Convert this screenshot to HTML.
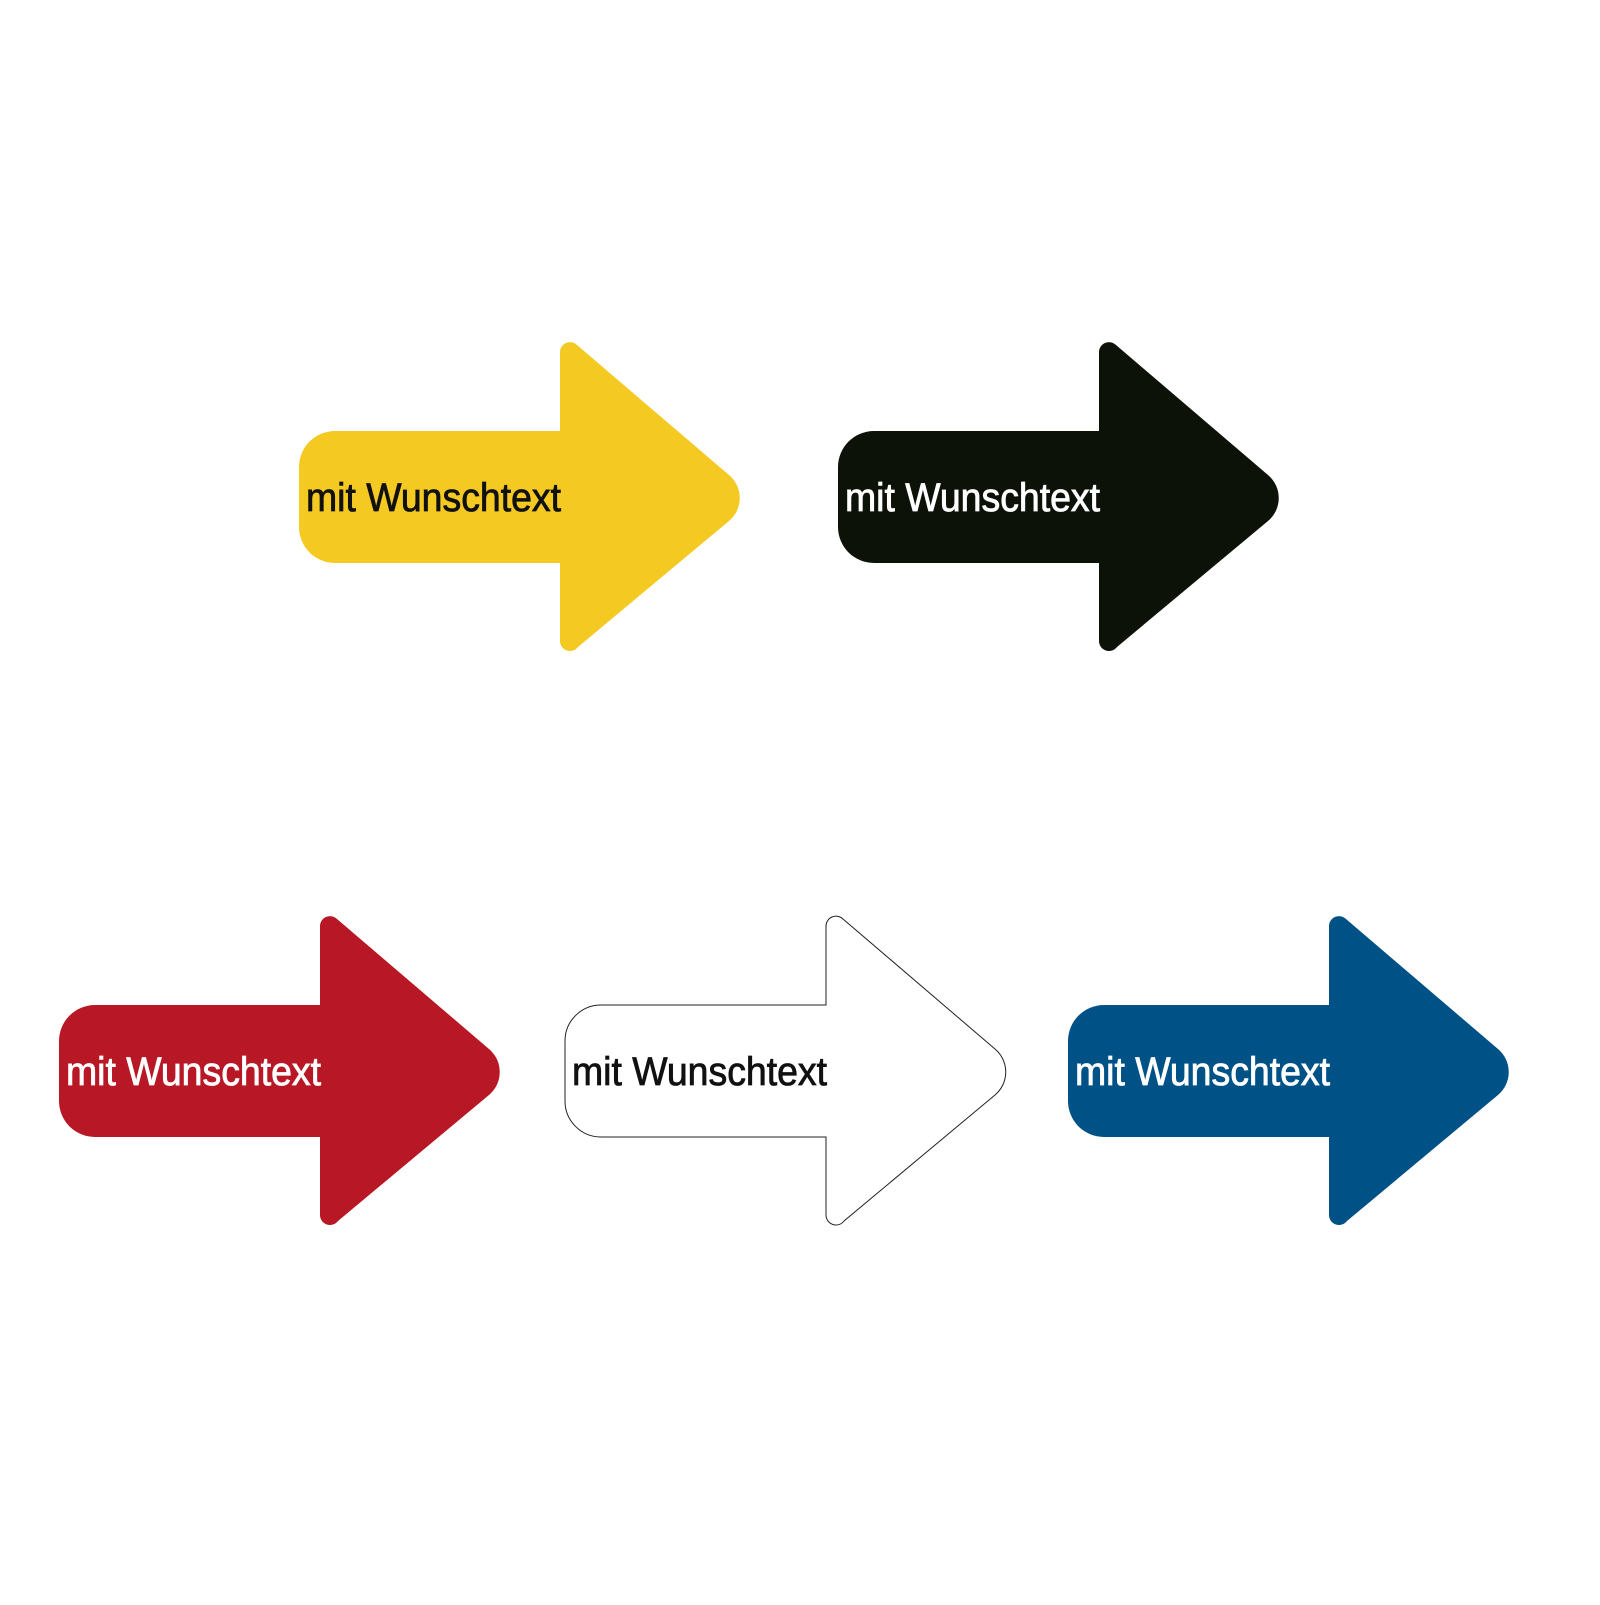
<!DOCTYPE html>
<html><head><meta charset="utf-8"><style>html,body{margin:0;padding:0;background:#fff}</style></head>
<body>
<svg width="1600" height="1600" viewBox="0 0 1600 1600" xmlns="http://www.w3.org/2000/svg">
<defs>
<path id="a" d="M335,431 H560 V352 A10,10 0 0 1 577,345 L729,475 A30,30 0 0 1 729,521 L578,647 A10,10 0 0 1 560,641 V563 H335 A36,36 0 0 1 299,527 V467 A36,36 0 0 1 335,431 Z"/>
</defs>
<g font-family="Liberation Sans, sans-serif" font-size="40" stroke-width="0.8">
<use href="#a" fill="#f4c922"/>
<text x="306" y="511" textLength="255" lengthAdjust="spacingAndGlyphs" fill="#111" stroke="#111">mit Wunschtext</text>

<g transform="translate(539,0)">
<use href="#a" fill="#0d1208"/>
<text x="306" y="511" textLength="255" lengthAdjust="spacingAndGlyphs" fill="#fff" stroke="#fff">mit Wunschtext</text>
</g>

<g transform="translate(-240,574)">
<use href="#a" fill="#b81825"/>
<text x="306" y="511" textLength="255" lengthAdjust="spacingAndGlyphs" fill="#fff" stroke="#fff">mit Wunschtext</text>
</g>

<g transform="translate(266,574)">
<use href="#a" fill="#fff" stroke="#222" stroke-width="1"/>
<text x="306" y="511" textLength="255" lengthAdjust="spacingAndGlyphs" fill="#111" stroke="#111">mit Wunschtext</text>
</g>

<g transform="translate(769,574)">
<use href="#a" fill="#005286"/>
<text x="306" y="511" textLength="255" lengthAdjust="spacingAndGlyphs" fill="#fff" stroke="#fff">mit Wunschtext</text>
</g>
</g>
</svg>
</body></html>
